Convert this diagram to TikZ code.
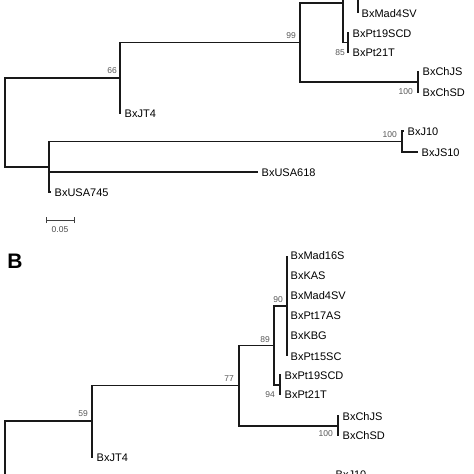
\documentclass[tikz,border=0pt]{standalone}
\usepackage{fontspec}
\setmainfont{Liberation Sans}
\begin{document}
\begin{tikzpicture}[x=1pt,y=-1pt,
  br/.style={line width=1.4pt, black!90},
  leaf/.style={anchor=west, font=\fontsize{11}{13}\selectfont, text=black, inner xsep=3.5pt, inner ysep=0pt, text height=8pt, text depth=0pt},
  bs/.style={anchor=east, font=\fontsize{8.5}{10}\selectfont, text=black!65, inner sep=0pt, text height=6.1pt, text depth=0pt},
  sbar/.style={line width=0.9pt, black!75}]
\useasboundingbox (0,0) rectangle (474,474);
\clip (0,0) rectangle (474,474);
\fill[white] (0,0) rectangle (474,474);

% ---------------- Panel A ----------------
\coordinate (rA) at (5,122.5);
\coordinate (a66) at (120,78);
\coordinate (a99) at (300,42.5);
\coordinate (aC) at (343,3);
\coordinate (aCl) at (358,-36);
\coordinate (aMad4) at (358,13);
\coordinate (a85) at (348,42.5);
\coordinate (aP19) at (349,33);
\coordinate (aP21) at (349,52);
\coordinate (aCh) at (418,82);
\coordinate (aChJS) at (419,71.5);
\coordinate (aChSD) at (419,92);
\coordinate (aJT4) at (121,113);
\coordinate (aL) at (49,167);
\coordinate (a100) at (402,141.5);
\coordinate (aJ10) at (404,131);
\coordinate (aJS10) at (418,152);
\coordinate (aU618) at (258,172);
\coordinate (aU745) at (51,192);

\draw[br] (rA) |- (a66);
\draw[br] (rA) |- (aL);
\draw[br] (a66) |- (a99);
\draw[br] (a66) |- (aJT4);
\draw[br] (a99) |- (aC);
\draw[br] (a99) |- (aCh);
\draw[br] (aC) |- (aCl);
\draw[br] (aC) |- (a85);
\draw[br] (aCl) |- (aMad4);
\draw[br] (a85) |- (aP19);
\draw[br] (a85) |- (aP21);
\draw[br] (aCh) |- (aChJS);
\draw[br] (aCh) |- (aChSD);
\draw[br] (aL) |- (a100);
\draw[br] (aL) |- (aU618);
\draw[br] (aL) |- (aU745);
\draw[br] (a100) |- (aJ10);
\draw[br] (a100) |- (aJS10);

\node[leaf] (lAMad4) at (aMad4) {BxMad4SV};
\node[leaf] (lAP19) at (aP19) {BxPt19SCD};
\node[leaf] (lAP21) at (aP21) {BxPt21T};
\node[leaf] (lAChJS) at (aChJS) {BxChJS};
\node[leaf] (lAChSD) at (aChSD) {BxChSD};
\node[leaf] (lAJT4) at (aJT4) {BxJT4};
\node[leaf] (lAJ10) at (aJ10) {BxJ10};
\node[leaf] (lAJS10) at (aJS10) {BxJS10};
\node[leaf] (lAU618) at (aU618) {BxUSA618};
\node[leaf] (lAU745) at (aU745) {BxUSA745};

\node[bs] (bsA66) at (117,70) {66};
\node[bs] (bsA99) at (296,35) {99};
\node[bs] (bsA85) at (345,52) {85};
\node[bs] (bsACh) at (413,91) {100};
\node[bs] (bsAJ) at (397,134) {100};

% scale bar
\coordinate (sb1) at (46,220);
\coordinate (sb2) at (74,220);
\draw[sbar] (sb1) -- (sb2);
\draw[sbar] ([yshift=-3pt]sb1) -- ([yshift=3pt]sb1);
\draw[sbar] ([yshift=-3pt]sb2) -- ([yshift=3pt]sb2);
\node[font=\fontsize{8.5}{10}\selectfont, text=black!70, inner sep=0pt] (sbl) at (60,229.5) {0.05};

% ---------------- Panel B ----------------
\node[font=\fontsize{21}{24}\bfseries\selectfont, inner sep=0pt] (labB) at (15,261) {B};

\coordinate (rB) at (5,470);
\coordinate (b59) at (92,421);
\coordinate (bLow) at (49,519);
\coordinate (bJT4) at (93,457);
\coordinate (b77) at (239,385.5);
\coordinate (b89) at (274,345.5);
\coordinate (b90) at (287,306);
\coordinate (b94) at (280,385);
\coordinate (bCh) at (338,426);
\coordinate (bJ) at (331,486);

\coordinate (bMad16) at (287,255.5);
\coordinate (bKAS) at (287,275.5);
\coordinate (bMad4) at (287,295.5);
\coordinate (bPt17) at (287,315.5);
\coordinate (bKBG) at (287,335.5);
\coordinate (bPt15) at (287,356);
\coordinate (bP19) at (281,375);
\coordinate (bP21) at (281,394);
\coordinate (bChJS) at (339,416);
\coordinate (bChSD) at (339,435.5);
\coordinate (bJ10) at (332,474.5);
\coordinate (bJS10) at (345,497);

\draw[br] (rB) |- (b59);
\draw[br] (rB) |- (bLow);
\draw[br] (b59) |- (b77);
\draw[br] (b59) |- (bJT4);
\draw[br] (b77) |- (b89);
\draw[br] (b77) |- (bCh);
\draw[br] (b89) |- (b90);
\draw[br] (b89) |- (b94);
\foreach \c in {bMad16,bKAS,bMad4,bPt17,bKBG,bPt15}{\draw[br] (b90) |- (\c);}
\draw[br] (b94) |- (bP19);
\draw[br] (b94) |- (bP21);
\draw[br] (bCh) |- (bChJS);
\draw[br] (bCh) |- (bChSD);
\draw[br] (bLow) |- (bJ);
\draw[br] (bJ) |- (bJ10);
\draw[br] (bJ) |- (bJS10);

\node[leaf] (lBMad16) at (bMad16) {BxMad16S};
\node[leaf] (lBKAS) at (bKAS) {BxKAS};
\node[leaf] (lBMad4) at (bMad4) {BxMad4SV};
\node[leaf] (lBPt17) at (bPt17) {BxPt17AS};
\node[leaf] (lBKBG) at (bKBG) {BxKBG};
\node[leaf] (lBPt15) at (bPt15) {BxPt15SC};
\node[leaf] (lBP19) at (bP19) {BxPt19SCD};
\node[leaf] (lBP21) at (bP21) {BxPt21T};
\node[leaf] (lBChJS) at (bChJS) {BxChJS};
\node[leaf] (lBChSD) at (bChSD) {BxChSD};
\node[leaf] (lBJT4) at (bJT4) {BxJT4};
\node[leaf] (lBJ10) at (bJ10) {BxJ10};

\node[bs] (bsB59) at (88,413) {59};
\node[bs] (bsB77) at (234,378) {77};
\node[bs] (bsB89) at (270,339) {89};
\node[bs] (bsB90) at (283,299) {90};
\node[bs] (bsB94) at (275,394) {94};
\node[bs] (bsBCh) at (333,433) {100};
\end{tikzpicture}
\end{document}
